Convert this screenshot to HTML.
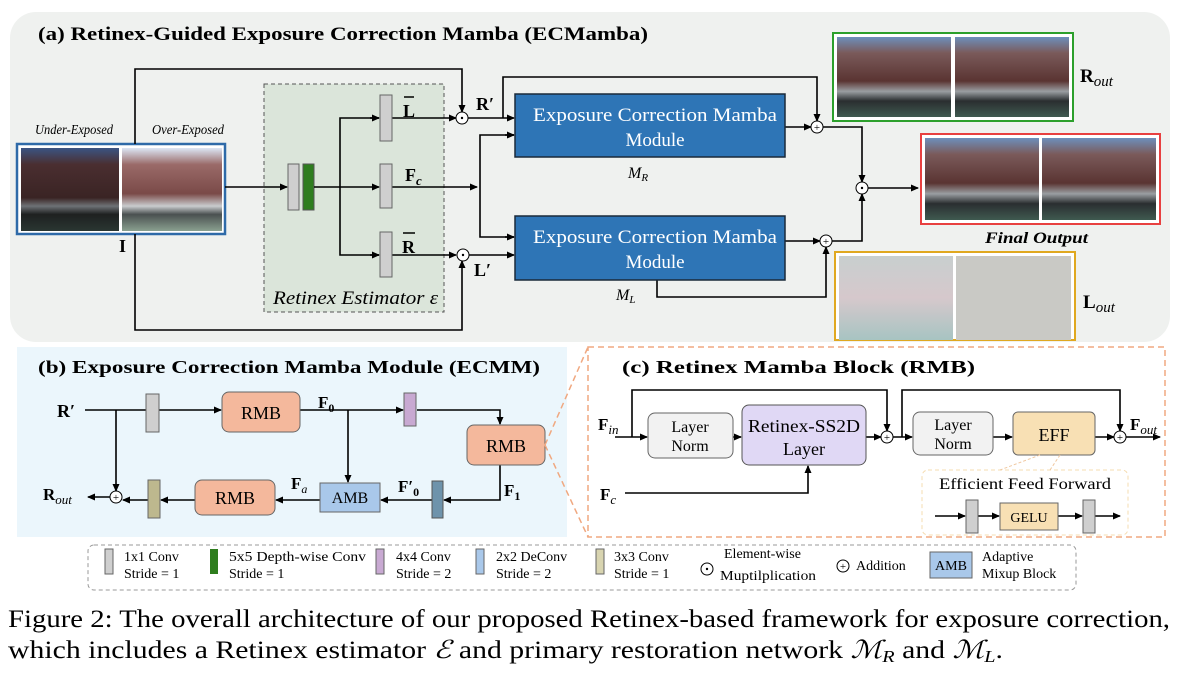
<!DOCTYPE html>
<html><head><meta charset="utf-8"><style>
body{margin:0;background:#fff}
svg{display:block}
.b{font-weight:bold}
</style></head><body>
<svg width="1179" height="677" viewBox="0 0 1179 677" xmlns="http://www.w3.org/2000/svg" font-family="'Liberation Serif','Times New Roman',Times,serif">
<defs>
<marker id="a" markerWidth="8" markerHeight="8" refX="7" refY="4" orient="auto" markerUnits="userSpaceOnUse"><path d="M0,0.5 L8,4 L0,7.5z" fill="#000"/></marker>
<linearGradient id="ph" x1="0" y1="0" x2="0" y2="1"><stop offset="0" stop-color="#6d8fbc"/><stop offset="0.2" stop-color="#7a5a5a"/><stop offset="0.55" stop-color="#5a3432"/><stop offset="0.68" stop-color="#9a9ea2"/><stop offset="0.8" stop-color="#2a2e30"/><stop offset="1" stop-color="#3f5a50"/></linearGradient>
<linearGradient id="pd" x1="0" y1="0" x2="0" y2="1"><stop offset="0" stop-color="#3b5483"/><stop offset="0.2" stop-color="#4a2e30"/><stop offset="0.6" stop-color="#3a2424"/><stop offset="0.7" stop-color="#6e7276"/><stop offset="0.8" stop-color="#1e2020"/><stop offset="1" stop-color="#2a3632"/></linearGradient>
<linearGradient id="pb" x1="0" y1="0" x2="0" y2="1"><stop offset="0" stop-color="#dce6f5"/><stop offset="0.2" stop-color="#9a6a68"/><stop offset="0.55" stop-color="#7a4a48"/><stop offset="0.7" stop-color="#c9ccce"/><stop offset="0.8" stop-color="#4a5050"/><stop offset="1" stop-color="#8aa090"/></linearGradient>
<linearGradient id="pl" x1="0" y1="0" x2="0" y2="1"><stop offset="0" stop-color="#c8cfcf"/><stop offset="0.5" stop-color="#d6c8cc"/><stop offset="1" stop-color="#a7c4c2"/></linearGradient>
</defs>
<!-- panel a -->
<rect x="10" y="12" width="1160" height="330" rx="26" fill="#eff1ef"/>
<text x="38" y="40" font-size="19" class="b" textLength="610" lengthAdjust="spacingAndGlyphs">(a)  Retinex-Guided Exposure Correction Mamba (ECMamba)</text>
<text x="35" y="134" font-size="14" font-style="italic" textLength="78" lengthAdjust="spacingAndGlyphs">Under-Exposed</text>
<text x="152" y="134" font-size="14" font-style="italic" textLength="72" lengthAdjust="spacingAndGlyphs">Over-Exposed</text>
<rect x="17" y="144" width="208" height="90" fill="#fff" stroke="#2e6aa8" stroke-width="2.5"/>
<rect x="21" y="148" width="98" height="83" fill="url(#pd)"/>
<rect x="122" y="148" width="100" height="83" fill="url(#pb)"/>
<text x="119" y="252" font-size="18" class="b">I</text>
<rect x="264" y="84" width="180" height="228" fill="#dbe5da" stroke="#555" stroke-dasharray="4,3"/>
<rect x="288" y="164" width="11" height="46" fill="#cfcfcf" stroke="#666"/>
<rect x="303" y="164" width="11" height="46" fill="#2e7d1e" stroke="#555"/>
<g stroke="#000" stroke-width="1.6" fill="none">
<line x1="225" y1="187" x2="287" y2="187" marker-end="url(#a)"/>
<line x1="314" y1="187" x2="379" y2="187" marker-end="url(#a)"/>
<polyline points="379,118 340,118 340,255 379,255"/>
<line x1="370" y1="118" x2="379" y2="118" marker-end="url(#a)"/>
<line x1="370" y1="255" x2="379" y2="255" marker-end="url(#a)"/>
<line x1="392" y1="118" x2="456" y2="118" marker-end="url(#a)"/>
<line x1="392" y1="255" x2="456" y2="255" marker-end="url(#a)"/>
<line x1="392" y1="187" x2="477" y2="187" marker-end="url(#a)"/>
<polyline points="135,144 135,69 462,69 462,112" marker-end="url(#a)"/>
<polyline points="135,234 135,330 462,330 462,261" marker-end="url(#a)"/>
<line x1="468" y1="118" x2="514" y2="118" marker-end="url(#a)"/>
<line x1="468" y1="255" x2="514" y2="255" marker-end="url(#a)"/>
<polyline points="503,118 503,77 817,77 817,121" marker-end="url(#a)"/>
<polyline points="514,135 480,135 480,237 514,237"/>
<line x1="505" y1="135" x2="514" y2="135" marker-end="url(#a)"/>
<line x1="505" y1="237" x2="514" y2="237" marker-end="url(#a)"/>
<line x1="785" y1="127" x2="811" y2="127" marker-end="url(#a)"/>
<line x1="785" y1="241" x2="820" y2="241" marker-end="url(#a)"/>
<polyline points="657,280 657,297 826,297 826,247" marker-end="url(#a)"/>
<polyline points="823,127 862,127 862,182" marker-end="url(#a)"/>
<polyline points="832,241 862,241 862,194" marker-end="url(#a)"/>
<line x1="868" y1="188" x2="918" y2="188" marker-end="url(#a)"/>
</g>
<rect x="380" y="95" width="12" height="46" fill="#cfcfcf" stroke="#666"/>
<rect x="380" y="164" width="12" height="44" fill="#cfcfcf" stroke="#666"/>
<rect x="380" y="232" width="12" height="45" fill="#cfcfcf" stroke="#666"/>
<text x="403" y="117" font-size="18" class="b">L</text><line x1="404" y1="97" x2="414" y2="97" stroke="#000" stroke-width="1.5"/>
<text x="405" y="181" font-size="18" class="b">F<tspan font-size="13" font-style="italic" dy="4">c</tspan></text>
<text x="402" y="253" font-size="18" class="b">R</text><line x1="403" y1="233" x2="415" y2="233" stroke="#000" stroke-width="1.5"/>
<text x="273" y="304" font-size="19" font-style="italic" textLength="165" lengthAdjust="spacingAndGlyphs">Retinex Estimator ε</text>
<g fill="#fff" stroke="#000"><circle cx="462" cy="118" r="6"/><circle cx="463" cy="255" r="6"/><circle cx="817" cy="127" r="6"/><circle cx="826" cy="241" r="6"/><circle cx="862" cy="188" r="6"/></g>
<g fill="#000"><circle cx="462" cy="118" r="1.2"/><circle cx="463" cy="255" r="1.2"/><circle cx="862" cy="188" r="1.2"/></g>
<text x="817" y="131" font-size="11" text-anchor="middle">+</text><text x="826" y="245" font-size="11" text-anchor="middle">+</text>
<text x="476" y="110" font-size="18" class="b">R′</text>
<text x="474" y="276" font-size="18" class="b">L′</text>
<rect x="515" y="94" width="270" height="63" fill="#2e75b6" stroke="#1a2a3a" stroke-width="1.5"/>
<rect x="515" y="216" width="270" height="64" fill="#2e75b6" stroke="#1a2a3a" stroke-width="1.5"/>
<g fill="#fff" font-size="19" text-anchor="middle"><text x="655" y="121" textLength="244" lengthAdjust="spacingAndGlyphs">Exposure Correction Mamba</text><text x="655" y="146">Module</text><text x="655" y="243" textLength="244" lengthAdjust="spacingAndGlyphs">Exposure Correction Mamba</text><text x="655" y="268">Module</text></g>
<text x="628" y="178" font-size="16" font-style="italic">M<tspan font-size="11" dy="3">R</tspan></text>
<text x="616" y="300" font-size="16" font-style="italic">M<tspan font-size="11" dy="3">L</tspan></text>
<rect x="833" y="33" width="240" height="88" fill="#fff" stroke="#2ca02c" stroke-width="2"/>
<rect x="837" y="37" width="114" height="80" fill="url(#ph)"/><rect x="955" y="37" width="114" height="80" fill="url(#ph)"/>
<text x="1080" y="82" font-size="19" class="b">R<tspan font-size="15" font-weight="normal" font-style="italic" dy="4">out</tspan></text>
<rect x="921" y="134" width="239" height="90" fill="#fff" stroke="#e84040" stroke-width="2"/>
<rect x="925" y="138" width="114" height="82" fill="url(#ph)"/><rect x="1042" y="138" width="114" height="82" fill="url(#ph)"/>
<text x="985" y="243" font-size="16" font-weight="bold" font-style="italic" textLength="103" lengthAdjust="spacingAndGlyphs">Final Output</text>
<rect x="835" y="252" width="240" height="88" fill="#fff" stroke="#e0a820" stroke-width="2"/>
<rect x="839" y="256" width="114" height="84" fill="url(#pl)"/><rect x="956" y="256" width="115" height="84" fill="#c9c9c5"/>
<text x="1083" y="308" font-size="19" class="b">L<tspan font-size="15" font-weight="normal" font-style="italic" dy="4">out</tspan></text>

<!-- panel b -->
<rect x="17" y="347" width="550" height="190" fill="#ebf6fc"/>
<text x="38" y="373" font-size="18" class="b" textLength="502" lengthAdjust="spacingAndGlyphs">(b)  Exposure Correction Mamba Module (ECMM)</text>
<text x="57" y="417" font-size="18" class="b">R′</text>
<g stroke="#000" stroke-width="1.6" fill="none">
<line x1="85" y1="410" x2="221" y2="410" marker-end="url(#a)"/>
<line x1="300" y1="410" x2="403" y2="410" marker-end="url(#a)"/>
<polyline points="417,410 500,410 500,424" marker-end="url(#a)"/>
<polyline points="500,465 500,500 444,500" marker-end="url(#a)"/>
<line x1="432" y1="500" x2="381" y2="500" marker-end="url(#a)"/>
<line x1="348" y1="410" x2="348" y2="482" marker-end="url(#a)"/>
<line x1="320" y1="500" x2="276" y2="500" marker-end="url(#a)"/>
<line x1="195" y1="500" x2="161" y2="500" marker-end="url(#a)"/>
<line x1="148" y1="500" x2="123" y2="500" marker-end="url(#a)"/>
<line x1="116" y1="410" x2="116" y2="491" marker-end="url(#a)"/>
<line x1="110" y1="497" x2="88" y2="497" marker-end="url(#a)"/>
</g>
<rect x="146" y="394" width="13" height="38" fill="#cfcfcf" stroke="#666"/>
<rect x="222" y="392" width="78" height="40" rx="7" fill="#f4b89c" stroke="#666"/>
<text x="261" y="419" font-size="18" text-anchor="middle">RMB</text>
<text x="318" y="408" font-size="17" class="b">F<tspan font-size="12" dy="4">0</tspan></text>
<rect x="404" y="393" width="12" height="33" fill="#c8a9d2" stroke="#666"/>
<rect x="467" y="425" width="78" height="40" rx="7" fill="#f4b89c" stroke="#666"/>
<text x="506" y="452" font-size="18" text-anchor="middle">RMB</text>
<text x="504" y="496" font-size="17" class="b">F<tspan font-size="12" dy="4">1</tspan></text>
<rect x="432" y="481" width="11" height="37" fill="#6e93ab" stroke="#555"/>
<text x="398" y="492" font-size="17" class="b">F′<tspan font-size="12" dy="4">0</tspan></text>
<rect x="320" y="483" width="60" height="29" fill="#a9c8ea" stroke="#666"/>
<text x="350" y="503" font-size="16" text-anchor="middle">AMB</text>
<text x="291" y="489" font-size="17" class="b">F<tspan font-size="12" font-style="italic" font-weight="normal" dy="4">a</tspan></text>
<rect x="195" y="480" width="80" height="35" rx="7" fill="#f4b89c" stroke="#666"/>
<text x="235" y="504" font-size="18" text-anchor="middle">RMB</text>
<rect x="148" y="480" width="12" height="38" fill="#bdb88e" stroke="#666"/>
<circle cx="116" cy="497" r="6" fill="#fff" stroke="#000"/><text x="116" y="501" font-size="11" text-anchor="middle">+</text>
<text x="43" y="500" font-size="17" class="b">R<tspan font-size="13" font-style="italic" font-weight="normal" dy="4">out</tspan></text>

<!-- panel c -->
<rect x="588" y="347" width="577" height="190" fill="#fff" stroke="#f0a880" stroke-width="1.5" stroke-dasharray="6,4"/>
<line x1="545" y1="445" x2="588" y2="347" stroke="#f0a880" stroke-width="1.5" stroke-dasharray="6,4"/>
<line x1="545" y1="445" x2="588" y2="537" stroke="#f0a880" stroke-width="1.5" stroke-dasharray="6,4"/>
<text x="622" y="373" font-size="18" class="b" textLength="353" lengthAdjust="spacingAndGlyphs">(c)  Retinex Mamba Block (RMB)</text>
<text x="598" y="430" font-size="17" class="b">F<tspan font-size="13" font-style="italic" font-weight="normal" dy="4">in</tspan></text>
<rect x="922" y="470" width="206" height="65" rx="6" fill="#fff" stroke="#f5dcb0" stroke-dasharray="4,3"/>
<g stroke="#000" stroke-width="1.6" fill="none">
<line x1="615" y1="437" x2="647" y2="437" marker-end="url(#a)"/>
<line x1="733" y1="437" x2="741" y2="437" marker-end="url(#a)"/>
<line x1="866" y1="437" x2="881" y2="437" marker-end="url(#a)"/>
<line x1="893" y1="437" x2="912" y2="437" marker-end="url(#a)"/>
<line x1="993" y1="437" x2="1012" y2="437" marker-end="url(#a)"/>
<line x1="1095" y1="437" x2="1114" y2="437" marker-end="url(#a)"/>
<line x1="1126" y1="437" x2="1160" y2="437" marker-end="url(#a)"/>
<polyline points="632,437 632,390 887,390 887,431" marker-end="url(#a)"/>
<polyline points="902,437 902,390 1120,390 1120,431" marker-end="url(#a)"/>
<polyline points="625,493 808,493 808,466" marker-end="url(#a)"/>
<line x1="935" y1="516" x2="965" y2="516" marker-end="url(#a)"/>
<line x1="978" y1="516" x2="999" y2="516" marker-end="url(#a)"/>
<line x1="1058" y1="516" x2="1082" y2="516" marker-end="url(#a)"/>
<line x1="1095" y1="516" x2="1120" y2="516" marker-end="url(#a)"/>
</g>
<rect x="648" y="413" width="85" height="45" rx="7" fill="#f2f2f2" stroke="#666"/>
<text x="690" y="432" font-size="16" text-anchor="middle">Layer</text><text x="690" y="451" font-size="16" text-anchor="middle">Norm</text>
<rect x="742" y="405" width="124" height="60" rx="7" fill="#e0d8f5" stroke="#555"/>
<text x="804" y="432" font-size="18" text-anchor="middle" textLength="112" lengthAdjust="spacingAndGlyphs">Retinex-SS2D</text><text x="804" y="455" font-size="18" text-anchor="middle">Layer</text>
<circle cx="887" cy="437" r="6" fill="#fff" stroke="#000"/><text x="887" y="441" font-size="11" text-anchor="middle">+</text>
<rect x="913" y="412" width="80" height="43" rx="7" fill="#f2f2f2" stroke="#666"/>
<text x="953" y="430" font-size="16" text-anchor="middle">Layer</text><text x="953" y="449" font-size="16" text-anchor="middle">Norm</text>
<rect x="1013" y="412" width="82" height="43" rx="5" fill="#f8e0b4" stroke="#666"/>
<text x="1054" y="441" font-size="18" text-anchor="middle">EFF</text>
<circle cx="1120" cy="437" r="6" fill="#fff" stroke="#000"/><text x="1120" y="441" font-size="11" text-anchor="middle">+</text>
<text x="1130" y="430" font-size="17" class="b">F<tspan font-size="13" font-style="italic" font-weight="normal" dy="4">out</tspan></text>
<text x="600" y="500" font-size="17" class="b">F<tspan font-size="13" font-style="italic" font-weight="normal" dy="4">c</tspan></text>
<line x1="1040" y1="455" x2="1000" y2="470" stroke="#f0c8a0" stroke-dasharray="3,2"/>
<line x1="1060" y1="455" x2="1050" y2="470" stroke="#f0c8a0" stroke-dasharray="3,2"/>
<text x="1025" y="489" font-size="16" text-anchor="middle" textLength="172" lengthAdjust="spacingAndGlyphs">Efficient  Feed Forward</text>
<rect x="966" y="500" width="12" height="33" fill="#cfcfcf" stroke="#666"/>
<rect x="1000" y="503" width="58" height="27" fill="#f8e0b4" stroke="#666"/>
<text x="1029" y="522" font-size="14" text-anchor="middle">GELU</text>
<rect x="1083" y="500" width="12" height="33" fill="#cfcfcf" stroke="#666"/>

<!-- legend -->
<rect x="88" y="545" width="988" height="45" rx="6" fill="#fff" stroke="#999" stroke-dasharray="4,3"/>
<g font-size="14">
<rect x="105" y="549" width="8" height="25" fill="#cfcfcf" stroke="#666"/><text x="124" y="561">1x1 Conv</text><text x="124" y="578">Stride = 1</text>
<rect x="210" y="549" width="8" height="25" fill="#2e7d1e"/><text x="229" y="561" textLength="137" lengthAdjust="spacingAndGlyphs">5x5 Depth-wise Conv</text><text x="229" y="578">Stride = 1</text>
<rect x="376" y="549" width="8" height="25" fill="#c8a9d2" stroke="#666"/><text x="396" y="561">4x4 Conv</text><text x="396" y="578">Stride = 2</text>
<rect x="476" y="549" width="8" height="25" fill="#a9c8ea" stroke="#666"/><text x="496" y="561">2x2 DeConv</text><text x="496" y="578">Stride = 2</text>
<rect x="596" y="549" width="8" height="25" fill="#d8d4b0" stroke="#666"/><text x="614" y="561">3x3 Conv</text><text x="614" y="578">Stride = 1</text>
<circle cx="707" cy="569" r="6" fill="#fff" stroke="#000"/><circle cx="707" cy="569" r="1.2"/>
<text x="724" y="558">Element-wise</text><text x="720" y="580" textLength="96" lengthAdjust="spacingAndGlyphs">Muptilplication</text>
<circle cx="843" cy="566" r="6" fill="#fff" stroke="#000"/><text x="843" y="570" font-size="11" text-anchor="middle">+</text><text x="856" y="570">Addition</text>
<rect x="930" y="552" width="42" height="26" fill="#a9c8ea" stroke="#666"/><text x="951" y="570" text-anchor="middle">AMB</text>
<text x="982" y="561">Adaptive</text><text x="982" y="578">Mixup Block</text>
</g>
<text x="8" y="627" font-size="25" textLength="1162" lengthAdjust="spacingAndGlyphs">Figure 2: The overall architecture of our proposed Retinex-based framework for exposure correction,</text>
<text x="8" y="658" font-size="25" textLength="995" lengthAdjust="spacingAndGlyphs">which includes a Retinex estimator <tspan font-style="italic">ℰ</tspan> and primary restoration network <tspan font-style="italic">ℳ<tspan font-size="17" dy="4">R</tspan></tspan><tspan dy="-4"> and </tspan><tspan font-style="italic">ℳ<tspan font-size="17" dy="4">L</tspan></tspan><tspan dy="-4">.</tspan></text>
</svg>
</body></html>
